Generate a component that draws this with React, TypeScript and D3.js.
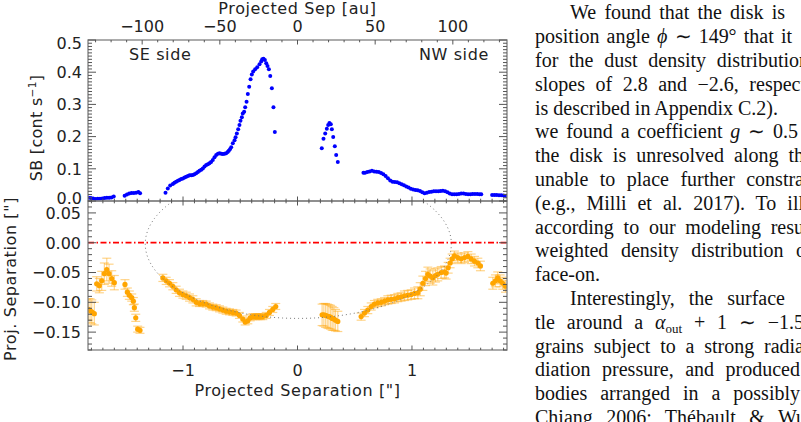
import React, { useEffect, useRef } from 'react';
import * as d3 from 'd3';

// ---------- axes / domains ----------
const AU_PER_ARCSEC = 73.7;
const sepDomain: [number, number] = [-1.83, 1.83];
const sbDomain: [number, number] = [0, 0.5];
const projDomain: [number, number] = [-0.18, 0.07];
const sbTicks = [0, 0.1, 0.2, 0.3, 0.4, 0.5];
const sbTickLabels = ['0.0', '0.1', '0.2', '0.3', '0.4', '0.5'];
const projTicks = [-0.15, -0.1, -0.05, 0, 0.05];
const projTickLabels = ['\u22120.15', '\u22120.10', '\u22120.05', '0.00', '0.05'];
const sepTicks = [-1, 0, 1];
const sepTickLabels = ['\u22121', '0', '1'];
const auTicks = [-100, -50, 0, 50, 100];
const auTickLabels = ['\u2212100', '\u221250', '0', '50', '100'];

// ---------- surface brightness (top panel), [sep ", SB] ----------
const sbSeg1: [number, number][] = [
  [-1.825, 0.010], [-1.805, 0.009], [-1.785, 0.008], [-1.765, 0.006], [-1.745, 0.007], [-1.725, 0.007],
  [-1.705, 0.008], [-1.685, 0.009], [-1.665, 0.010], [-1.645, 0.010], [-1.625, 0.011], [-1.605, 0.014],
];
const sbSeg2: [number, number][] = [
  [-1.51, 0.016], [-1.49, 0.020], [-1.47, 0.023], [-1.45, 0.025], [-1.43, 0.025], [-1.41, 0.026],
  [-1.39, 0.028], [-1.375, 0.024],
];
const sbSeg3: [number, number][] = [
  [-1.153, 0.026], [-1.133, 0.039], [-1.112, 0.048], [-1.089, 0.053], [-1.075, 0.057], [-1.060, 0.060],
  [-1.045, 0.063], [-1.031, 0.065], [-1.016, 0.068], [-1.001, 0.070], [-0.986, 0.073], [-0.972, 0.075],
  [-0.957, 0.078], [-0.943, 0.080], [-0.928, 0.080], [-0.914, 0.081], [-0.900, 0.083], [-0.885, 0.086],
  [-0.870, 0.090], [-0.856, 0.094], [-0.841, 0.097], [-0.827, 0.101], [-0.812, 0.107], [-0.797, 0.112],
  [-0.783, 0.114], [-0.769, 0.117], [-0.755, 0.121], [-0.740, 0.127], [-0.725, 0.136], [-0.710, 0.143],
  [-0.695, 0.147], [-0.681, 0.148], [-0.666, 0.147], [-0.652, 0.146], [-0.637, 0.147], [-0.623, 0.148],
  [-0.610, 0.152], [-0.600, 0.156], [-0.590, 0.161], [-0.579, 0.167], [-0.565, 0.179], [-0.550, 0.189],
  [-0.541, 0.198], [-0.530, 0.210], [-0.518, 0.223], [-0.507, 0.236], [-0.498, 0.249], [-0.486, 0.260],
  [-0.478, 0.272], [-0.466, 0.277], [-0.457, 0.291], [-0.445, 0.308], [-0.434, 0.332], [-0.422, 0.355],
  [-0.410, 0.378], [-0.399, 0.393], [-0.387, 0.402], [-0.370, 0.409], [-0.352, 0.415], [-0.332, 0.425],
  [-0.317, 0.433], [-0.308, 0.440], [-0.297, 0.442], [-0.285, 0.438], [-0.273, 0.428], [-0.262, 0.419],
  [-0.250, 0.409], [-0.238, 0.388], [-0.224, 0.350], [-0.210, 0.291], [-0.198, 0.214],
];
const sbSeg4: [number, number][] = [
  [0.212, 0.164], [0.227, 0.193], [0.242, 0.210], [0.256, 0.224], [0.268, 0.236], [0.279, 0.242],
  [0.291, 0.238], [0.300, 0.223], [0.312, 0.199], [0.326, 0.170], [0.338, 0.143], [0.352, 0.121],
];
const sbSeg5: [number, number][] = [
  [0.576, 0.088], [0.59, 0.088], [0.61, 0.090], [0.63, 0.092], [0.65, 0.094], [0.67, 0.092], [0.69, 0.091],
  [0.71, 0.090], [0.73, 0.087], [0.75, 0.083], [0.77, 0.078], [0.79, 0.071], [0.81, 0.064], [0.83, 0.060],
  [0.85, 0.059], [0.87, 0.058], [0.89, 0.055], [0.91, 0.052], [0.93, 0.049], [0.95, 0.045], [0.97, 0.042],
  [0.99, 0.038], [1.01, 0.036], [1.03, 0.034], [1.05, 0.033], [1.07, 0.031], [1.09, 0.027], [1.11, 0.024],
  [1.13, 0.026], [1.15, 0.028], [1.17, 0.029], [1.19, 0.030], [1.21, 0.030], [1.23, 0.030], [1.25, 0.031],
  [1.27, 0.032], [1.29, 0.030], [1.31, 0.027], [1.33, 0.023], [1.35, 0.021], [1.37, 0.021], [1.39, 0.021],
  [1.41, 0.022], [1.43, 0.023], [1.45, 0.023], [1.47, 0.022], [1.49, 0.021], [1.51, 0.021], [1.53, 0.022],
  [1.55, 0.022], [1.57, 0.022], [1.59, 0.021], [1.605, 0.021],
];
const sbSeg6: [number, number][] = [
  [1.70, 0.019], [1.72, 0.019], [1.74, 0.019], [1.76, 0.018], [1.78, 0.018], [1.80, 0.017], [1.822, 0.016],
];
const sbSegments = [sbSeg1, sbSeg2, sbSeg3, sbSeg4, sbSeg5, sbSeg6];

// ---------- spine projected separation (bottom panel), [sep ", proj sep ", error] ----------
const projSeg1: [number, number, number][] = [
  [-1.827, -0.112, 0.018], [-1.812, -0.114, 0.020], [-1.797, -0.116, 0.020], [-1.775, -0.119, 0.019],
  [-1.754, -0.069, 0.012], [-1.731, -0.072, 0.012], [-1.710, -0.064, 0.016], [-1.687, -0.052, 0.018],
  [-1.666, -0.045, 0.019], [-1.646, -0.052, 0.016], [-1.623, -0.060, 0.013], [-1.600, -0.067, 0.012],
];
const projSeg2: [number, number, number][] = [
  [-1.507, -0.070, 0.008], [-1.486, -0.083, 0.007], [-1.469, -0.088, 0.007], [-1.448, -0.092, 0.006],
  [-1.434, -0.098, 0.006], [-1.425, -0.109, 0.006], [-1.413, -0.126, 0.006], [-1.396, -0.145, 0.005],
  [-1.376, -0.147, 0.005],
];
const projSeg3: [number, number, number][] = [
  [-1.176, -0.059, 0.006], [-1.147, -0.064, 0.006], [-1.118, -0.068, 0.006], [-1.089, -0.073, 0.006],
  [-1.060, -0.079, 0.006], [-1.031, -0.084, 0.006], [-1.001, -0.087, 0.006], [-0.972, -0.089, 0.006],
  [-0.943, -0.092, 0.006], [-0.914, -0.095, 0.006], [-0.885, -0.100, 0.006], [-0.856, -0.102, 0.005],
  [-0.827, -0.102, 0.005], [-0.797, -0.103, 0.005], [-0.769, -0.106, 0.005], [-0.740, -0.108, 0.005],
  [-0.710, -0.109, 0.005], [-0.681, -0.111, 0.005], [-0.652, -0.113, 0.005], [-0.623, -0.115, 0.005],
  [-0.594, -0.116, 0.005], [-0.565, -0.117, 0.005], [-0.536, -0.118, 0.005], [-0.507, -0.122, 0.005],
  [-0.478, -0.128, 0.005], [-0.457, -0.133, 0.005], [-0.434, -0.131, 0.005], [-0.413, -0.126, 0.005],
  [-0.390, -0.124, 0.005], [-0.368, -0.124, 0.005], [-0.347, -0.124, 0.005], [-0.325, -0.124, 0.005],
  [-0.303, -0.124, 0.005], [-0.273, -0.122, 0.005], [-0.245, -0.117, 0.005], [-0.216, -0.112, 0.005],
  [-0.190, -0.107, 0.005],
];
const projSeg4: [number, number, number][] = [
  [0.215, -0.121, 0.018], [0.230, -0.121, 0.019], [0.245, -0.122, 0.020], [0.260, -0.123, 0.020],
  [0.274, -0.124, 0.020], [0.289, -0.125, 0.020], [0.303, -0.127, 0.020], [0.318, -0.128, 0.019],
  [0.332, -0.130, 0.018], [0.352, -0.132, 0.017],
];
const projSeg5: [number, number, number][] = [
  [0.556, -0.124, 0.006], [0.585, -0.118, 0.006], [0.614, -0.113, 0.006], [0.644, -0.107, 0.006],
  [0.672, -0.103, 0.006], [0.701, -0.101, 0.006], [0.731, -0.100, 0.006], [0.760, -0.098, 0.006],
  [0.789, -0.096, 0.007], [0.818, -0.095, 0.007], [0.847, -0.094, 0.007], [0.876, -0.092, 0.007],
  [0.905, -0.091, 0.007], [0.934, -0.089, 0.008], [0.963, -0.088, 0.008], [0.993, -0.087, 0.008],
  [1.022, -0.085, 0.009], [1.051, -0.084, 0.010], [1.072, -0.078, 0.011], [1.095, -0.068, 0.012],
  [1.118, -0.060, 0.012], [1.139, -0.053, 0.012], [1.159, -0.056, 0.012], [1.182, -0.059, 0.012],
  [1.205, -0.055, 0.011], [1.225, -0.053, 0.011], [1.255, -0.050, 0.010], [1.284, -0.049, 0.010],
  [1.298, -0.051, 0.010], [1.316, -0.042, 0.009], [1.333, -0.034, 0.008], [1.351, -0.027, 0.008],
  [1.371, -0.022, 0.008], [1.400, -0.025, 0.008], [1.430, -0.027, 0.008], [1.459, -0.025, 0.008],
  [1.488, -0.023, 0.008], [1.517, -0.027, 0.008], [1.546, -0.031, 0.008], [1.575, -0.034, 0.008],
  [1.598, -0.039, 0.008],
];
const projSeg6: [number, number, number][] = [
  [1.706, -0.068, 0.010], [1.729, -0.064, 0.010], [1.749, -0.059, 0.010], [1.770, -0.064, 0.010],
  [1.793, -0.068, 0.010], [1.817, -0.073, 0.010],
];
const projSegments = [projSeg1, projSeg2, projSeg3, projSeg4, projSeg5, projSeg6];

// ring model (dotted ellipse): center and semi-axes in arcsec
const ringCenter: [number, number] = [0.007, -0.002];
const ringAxes: [number, number] = [1.337, 0.125];

// ---------- body text on the right ----------
type Seg = { t: string; it?: boolean; sub?: boolean };
const bodyLines: { segs: Seg[]; indent?: boolean; end?: number }[] = [
  { segs: [{ t: 'We found that the disk is' }], indent: true, end: 785 },
  { segs: [{ t: 'position angle ' }, { t: '\u03D5', it: true }, { t: ' \u223C 149\u00B0 that it' }], end: 792 },
  { segs: [{ t: 'for the dust density distribution' }], end: 809 },
  { segs: [{ t: 'slopes of 2.8 and \u22122.6, respect' }], end: 806 },
  { segs: [{ t: 'is described in Appendix C.2).' }], end: 778 },
  { segs: [{ t: 'we found a coefficient ' }, { t: 'g', it: true }, { t: ' \u223C 0.5' }], end: 798 },
  { segs: [{ t: 'the disk is unresolved along th' }], end: 804 },
  { segs: [{ t: 'unable to place further constra' }], end: 804 },
  { segs: [{ t: '(e.g., Milli et al. 2017). To ill' }], end: 804 },
  { segs: [{ t: 'according to our modeling resu' }], end: 804 },
  { segs: [{ t: 'weighted density distribution o' }], end: 806 },
  { segs: [{ t: 'face-on.' }] },
  { segs: [{ t: 'Interestingly, the surface' }], indent: true, end: 785 },
  { segs: [{ t: 'tle around a ' }, { t: '\u03B1', it: true }, { t: 'out', sub: true }, { t: ' + 1 \u223C \u22121.5' }], end: 804 },
  { segs: [{ t: 'grains subject to a strong radia' }], end: 804 },
  { segs: [{ t: 'diation pressure, and produced' }], end: 800 },
  { segs: [{ t: 'bodies arranged in a possibly' }], end: 800 },
  { segs: [{ t: 'Chiang 2006; Th\u00E9bault & Wu' }], end: 806 },
];

const W = 801;
const H = 422;
const L = 88, R = 507, T1 = 40, B1 = 201, B2 = 350;
const SANS = '"DejaVu Sans", sans-serif';
const INK = '#222';
const FRAME = '#808080';
const TICK = '#555';

export default function App() {
  const textRef = useRef<SVGGElement>(null);

  const x = d3.scaleLinear().domain(sepDomain).range([L, R]);
  const xAu = d3.scaleLinear().domain([sepDomain[0] * AU_PER_ARCSEC, sepDomain[1] * AU_PER_ARCSEC]).range([L, R]);
  const ySB = d3.scaleLinear().domain(sbDomain).range([B1, T1]);
  const yP = d3.scaleLinear().domain(projDomain).range([B2, B1]);

  useEffect(() => {
    if (!textRef.current) return;
    d3.select(textRef.current)
      .selectAll<SVGTextElement, unknown>('text[data-end]')
      .each(function () {
        const el = this;
        el.removeAttribute('textLength');
        el.style.wordSpacing = '0px';
        const nat = el.getComputedTextLength();
        const start = +(el.getAttribute('x') || 0);
        const end = +(el.getAttribute('data-end') || 0);
        const spaces = ((el.textContent || '').match(/ /g) || []).length;
        if (spaces > 0) el.style.wordSpacing = `${Math.max(-1.5, (end - start - nat) / spaces)}px`;
        el.setAttribute('textLength', String(end - start));
        el.setAttribute('lengthAdjust', 'spacing');
      });
  }, []);

  const sepMinor = d3.range(-18, 19).map((v) => v / 10).filter((v) => Math.abs(v - Math.round(v)) > 1e-6);
  const auMinor = d3.range(-130, 131, 10).filter((v) => v % 50 !== 0);
  const sbMinor = d3.range(0, 51).map((v) => v / 100).filter((v) => v * 10 !== Math.round(v * 10));
  const projMinor = d3.range(-18, 8).map((v) => v / 100).filter((v) => Math.abs(v * 20 - Math.round(v * 20)) > 1e-6);

  const xMajLen = 4.5, xMinLen = 2.3, yMajLen = 8, yMinLen = 4;

  const hTicks = (vals: number[], scale: (v: number) => number, yEdge: number, dir: number, len: number, key: string) =>
    vals.map((v, i) => (
      <line key={key + i} x1={scale(v)} x2={scale(v)} y1={yEdge} y2={yEdge + dir * len} stroke={TICK} strokeWidth={1} />
    ));
  const vTicks = (vals: number[], scale: (v: number) => number, key: string, len: number) =>
    vals.flatMap((v, i) => [
      <line key={key + 'l' + i} x1={L} x2={L + len} y1={scale(v)} y2={scale(v)} stroke={TICK} strokeWidth={1} />,
      <line key={key + 'r' + i} x1={R} x2={R - len} y1={scale(v)} y2={scale(v)} stroke={TICK} strokeWidth={1} />,
    ]);

  const ellipsePath = (() => {
    const thetas = d3.range(0, 361, 2).map((d) => (d * Math.PI) / 180);
    return d3
      .line<number>()
      .x((t) => x(ringCenter[0] + ringAxes[0] * Math.cos(t)))
      .y((t) => yP(ringCenter[1] + ringAxes[1] * Math.sin(t)))(thetas);
  })();

  const sbLabelY = (v: number) => Math.min(Math.max(ySB(v), T1 + 3), B1 - 3) + 5.8;

  return (
    <div style={{ position: 'absolute', left: 0, top: 0, width: W, height: H, overflow: 'hidden', background: '#fff' }}>
      <svg width={W} height={H} style={{ display: 'block' }}>
        <defs>
          <clipPath id="clipTop">
            <rect x={L} y={T1} width={R - L} height={B1 - T1} />
          </clipPath>
          <clipPath id="clipBot">
            <rect x={L} y={B1} width={R - L} height={B2 - B1} />
          </clipPath>
          <clipPath id="clipPage">
            <rect x={0} y={0} width={W} height={H} />
          </clipPath>
        </defs>
        <rect x={0} y={0} width={W} height={H} fill="#fff" />

        {/* top panel data */}
        <g clipPath="url(#clipTop)">
          {sbSegments.flatMap((seg, si) =>
            seg.map((d, i) => <circle key={`sb${si}-${i}`} cx={x(d[0])} cy={ySB(d[1])} r={2.0} fill="#0000ff" />)
          )}
        </g>

        {/* bottom panel data */}
        <g clipPath="url(#clipBot)">
          {projSegments.flatMap((seg, si) =>
            seg.map((d, i) => {
              const cx = x(d[0]);
              const y0 = yP(d[1] - d[2]);
              const y1 = yP(d[1] + d[2]);
              return (
                <g key={`eb${si}-${i}`} stroke="rgba(255,170,20,0.5)" strokeWidth={1.2}>
                  <line x1={cx} x2={cx} y1={y0} y2={y1} />
                  <line x1={cx - 4.5} x2={cx + 4.5} y1={y0} y2={y0} />
                  <line x1={cx - 4.5} x2={cx + 4.5} y1={y1} y2={y1} />
                </g>
              );
            })
          )}
          {projSegments.flatMap((seg, si) =>
            seg.map((d, i) => <circle key={`pp${si}-${i}`} cx={x(d[0])} cy={yP(d[1])} r={2.6} fill="#ffa500" />)
          )}
          <path d={ellipsePath || ''} fill="none" stroke="#777" strokeWidth={1} strokeDasharray="1 3" />
          <line x1={L} x2={R} y1={yP(0)} y2={yP(0)} stroke="#ff0000" strokeWidth={1.8} strokeDasharray="6 2.5 1.5 2.5" />
        </g>

        {/* frames */}
        <rect x={L} y={T1} width={R - L} height={B1 - T1} fill="none" stroke={FRAME} strokeWidth={1.3} />
        <rect x={L} y={B1} width={R - L} height={B2 - B1} fill="none" stroke={FRAME} strokeWidth={1.3} />

        {/* ticks: top panel */}
        {hTicks(auTicks, xAu, T1, 1, xMajLen, 'aumaj')}
        {hTicks(auMinor, xAu, T1, 1, xMinLen, 'aumin')}
        {hTicks(sepTicks, x, B1, -1, xMajLen, 'tb')}
        {hTicks(sepMinor, x, B1, -1, xMinLen, 'tbm')}
        {vTicks(sbTicks, ySB, 'sbM', yMajLen)}
        {vTicks(sbMinor, ySB, 'sbm', yMinLen)}
        {/* ticks: bottom panel */}
        {hTicks(sepTicks, x, B1, 1, xMajLen, 'bt')}
        {hTicks(sepMinor, x, B1, 1, xMinLen, 'btm')}
        {hTicks(sepTicks, x, B2, -1, xMajLen, 'bb')}
        {hTicks(sepMinor, x, B2, -1, xMinLen, 'bbm')}
        {vTicks(projTicks, yP, 'pM', yMajLen)}
        {vTicks(projMinor, yP, 'pm', yMinLen)}

        {/* tick labels */}
        <g fontFamily={SANS} fontSize={16} fill={INK}>
          {auTicks.map((v, i) => (
            <text key={'aul' + i} x={xAu(v)} y={31.5} textAnchor="middle">{auTickLabels[i]}</text>
          ))}
          {sbTicks.map((v, i) => (
            <text key={'sbl' + i} x={82} y={sbLabelY(v)} textAnchor="end">{sbTickLabels[i]}</text>
          ))}
          {projTicks.map((v, i) => (
            <text key={'pl' + i} x={81} y={yP(v) + 5.8} textAnchor="end">{projTickLabels[i]}</text>
          ))}
          {sepTicks.map((v, i) => (
            <text key={'sl' + i} x={x(v)} y={376} textAnchor="middle">{sepTickLabels[i]}</text>
          ))}
        </g>
        <g fontFamily={SANS} fontSize={16} fill={INK} letterSpacing={0.6}>
          <text x={297.5} y={14} textAnchor="middle">Projected Sep [au]</text>
          <text x={297.5} y={396} textAnchor="middle">Projected Separation ["]</text>
          <text x={129} y={60}>SE side</text>
          <text x={419} y={60}>NW side</text>
          <text transform="translate(42,128) rotate(-90)" textAnchor="middle" letterSpacing={0.3}>
            SB [cont s<tspan dy={-6} fontSize={10.5}>{'\u22121'}</tspan><tspan dy={6}>]</tspan>
          </text>
          <text transform="translate(16,279) rotate(-90)" textAnchor="middle">Proj. Separation ["]</text>
        </g>

        {/* body text */}
        <g ref={textRef} fontFamily='"Liberation Serif", "Times New Roman", serif' fontSize={20} fill="#111" clipPath="url(#clipPage)">
          {bodyLines.map((ln, i) => {
            const x0 = ln.indent ? 570 : 535;
            const y0 = 19.3 + i * 23.8;
            return (
              <text key={'bl' + i} x={x0} y={y0} data-end={ln.end !== undefined ? ln.end : undefined}>
                {ln.segs.map((s, j) =>
                  s.sub ? (
                    <tspan key={j} fontSize={13} dy={4}>{s.t}</tspan>
                  ) : (
                    <tspan
                      key={j}
                      fontStyle={s.it ? 'italic' : undefined}
                      dy={j > 0 && ln.segs[j - 1].sub ? -4 : undefined}
                    >
                      {s.t}
                    </tspan>
                  )
                )}
              </text>
            );
          })}
        </g>
      </svg>
    </div>
  );
}
